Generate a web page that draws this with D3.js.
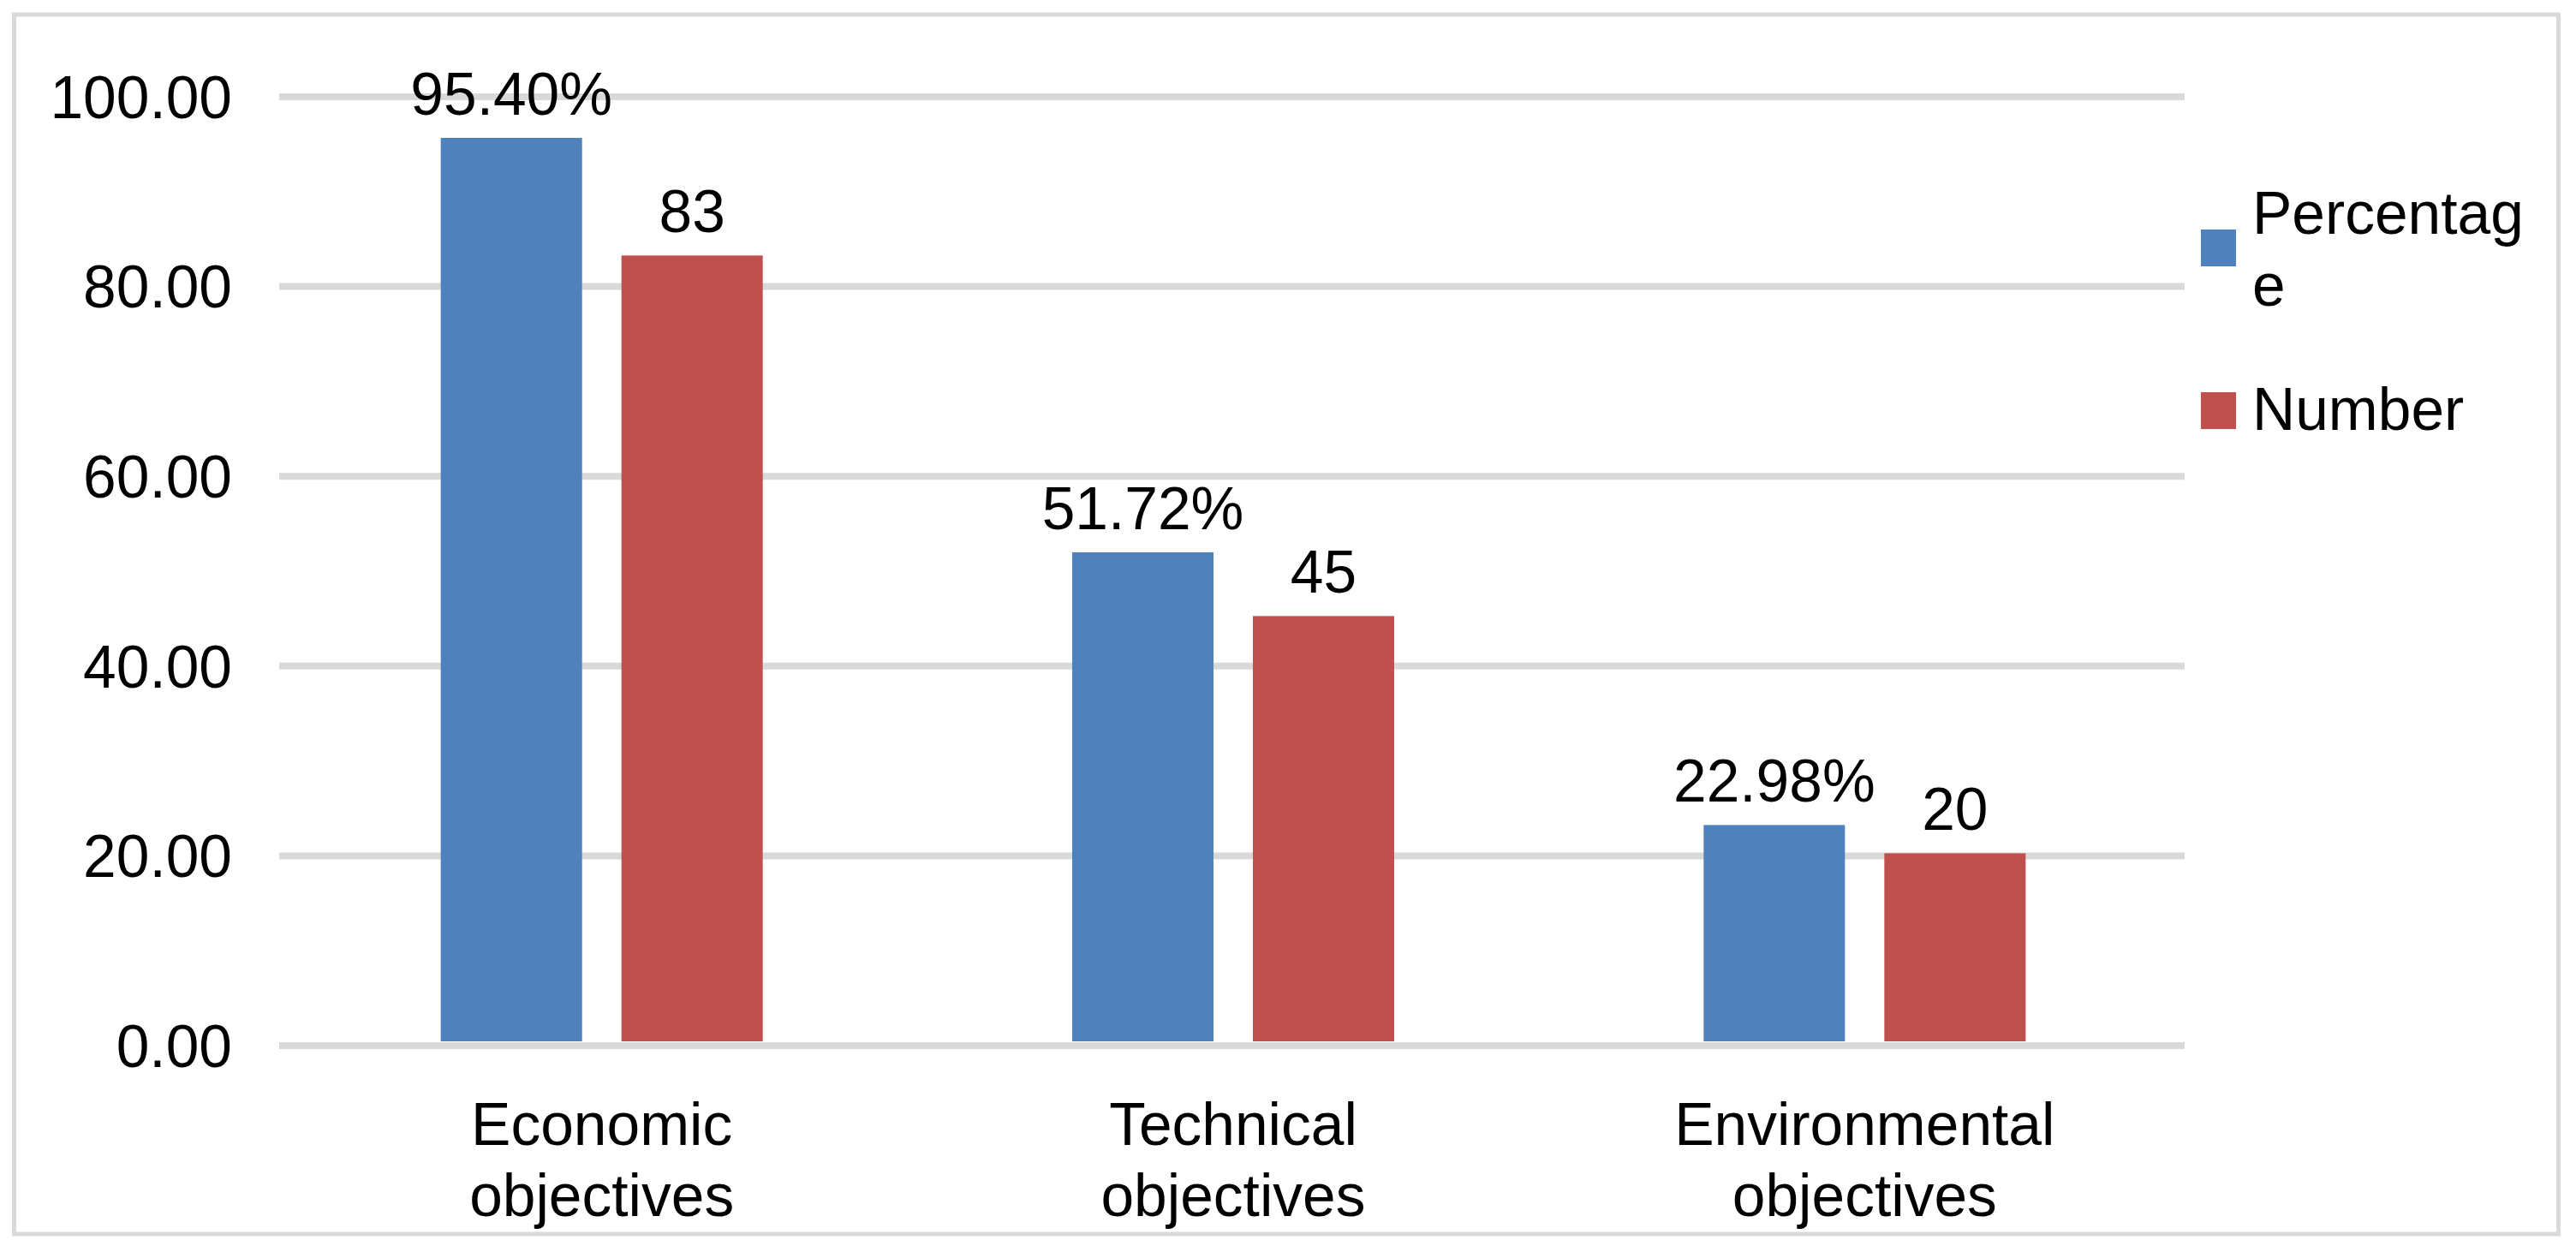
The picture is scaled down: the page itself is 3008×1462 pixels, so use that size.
<!DOCTYPE html>
<html>
<head>
<meta charset="utf-8">
<script src="https://cdn.jsdelivr.net/npm/d3@7"></script>
<style>
  html, body { margin: 0; padding: 0; background: #ffffff; }
  svg { display: block; }
</style>
</head>
<body>
<script>
// ---- data ----
const categories = [["Economic", "objectives"], ["Technical", "objectives"], ["Environmental", "objectives"]];
const categoryKeys = ["Economic objectives", "Technical objectives", "Environmental objectives"];
const seriesNames = ["Percentage", "Number"];
const percentageValues = [95.40, 51.72, 22.98];
const numberValues = [83, 45, 20];
const percentageLabels = ["95.40%", "51.72%", "22.98%"];
const numberLabels = ["83", "45", "20"];
const yTicks = [0, 20, 40, 60, 80, 100];
const legendLines = [["Percentag", "e"], ["Number"]];

// ---- layout ----
const W = 3008, H = 1462;
const FONT = "'Liberation Sans', Arial, Helvetica, sans-serif";
const FS = 69.5;
const colors = { Percentage: "#4F81BD", Number: "#C0504D" };

const svg = d3.select("body").append("svg")
  .attr("width", W).attr("height", H)
  .attr("viewBox", `0 0 ${W} ${H}`);

svg.append("rect").attr("width", W).attr("height", H).attr("fill", "#fff");

// chart border
svg.append("rect")
  .attr("x", 16.5).attr("y", 17).attr("width", 2971).attr("height", 1424)
  .attr("fill", "none").attr("stroke", "#d9d9d9").attr("stroke-width", 5);

const gridX0 = 326, gridX1 = 2551;
const y = d3.scaleLinear().domain([0, 100]).range([1221, 113]);
const x0 = d3.scaleBand().domain(categoryKeys).range([334, 2546]);
const x1 = d3.scaleBand().domain(seriesNames).range([0, 376]).paddingInner(0.218);

// gridlines
svg.append("g").selectAll("line").data(yTicks).join("line")
  .attr("x1", gridX0).attr("x2", gridX1)
  .attr("y1", d => y(d)).attr("y2", d => y(d))
  .attr("stroke", "#d9d9d9").attr("stroke-width", 8);

// y axis labels
const yAxis = d3.axisLeft(y).tickValues(yTicks).tickFormat(d3.format(".2f")).tickSize(0).tickPadding(0);
const yg = svg.append("g").attr("transform", `translate(271,0)`).call(yAxis);
yg.select(".domain").remove();
yg.selectAll("text")
  .attr("font-family", FONT).attr("font-size", FS).attr("fill", "#000")
  .attr("dy", "0.35em");

// data rows
const rows = categoryKeys.map((k, i) => ({
  key: k,
  lines: categories[i],
  vals: [
    { s: "Percentage", v: percentageValues[i], label: percentageLabels[i] },
    { s: "Number", v: numberValues[i], label: numberLabels[i] }
  ]
}));

const groups = svg.append("g").selectAll("g").data(rows).join("g")
  .attr("transform", d => `translate(${x0(d.key) + x0.bandwidth() / 2 - 188},0)`);

groups.selectAll("rect").data(d => d.vals).join("rect")
  .attr("x", d => x1(d.s))
  .attr("width", x1.bandwidth())
  .attr("y", d => y(d.v) - 3)
  .attr("height", d => y(0) - 5 - y(d.v) + 3)
  .attr("fill", d => colors[d.s]);

groups.selectAll("text.lbl").data(d => d.vals).join("text")
  .attr("class", "lbl")
  .attr("x", d => x1(d.s) + x1.bandwidth() / 2)
  .attr("y", d => y(d.v) - 30)
  .attr("text-anchor", "middle")
  .attr("font-family", FONT).attr("font-size", FS).attr("fill", "#000")
  .text(d => d.label);

// category labels
const catText = svg.append("g").selectAll("text").data(rows).join("text")
  .attr("x", d => x0(d.key) + x0.bandwidth() / 2)
  .attr("y", 1337)
  .attr("text-anchor", "middle")
  .attr("font-family", FONT).attr("font-size", FS).attr("fill", "#000");
catText.selectAll("tspan").data(d => d.lines).join("tspan")
  .attr("x", function () { return d3.select(this.parentNode).attr("x"); })
  .attr("dy", (d, i) => i === 0 ? 0 : 83)
  .text(d => d);

// legend
const legendItems = [
  { s: "Percentage", lines: legendLines[0], sqY: 268, textY: 273 },
  { s: "Number", lines: legendLines[1], sqY: 458, textY: 502 }
];
const lg = svg.append("g");
lg.selectAll("rect").data(legendItems).join("rect")
  .attr("x", 2570).attr("y", d => d.sqY).attr("width", 41).attr("height", 43)
  .attr("fill", d => colors[d.s]);
const lt = lg.selectAll("text").data(legendItems).join("text")
  .attr("x", 2630).attr("y", d => d.textY)
  .attr("font-family", FONT).attr("font-size", FS).attr("fill", "#000");
lt.selectAll("tspan").data(d => d.lines).join("tspan")
  .attr("x", 2630)
  .attr("dy", (d, i) => i === 0 ? 0 : 84)
  .text(d => d);
</script>
</body>
</html>
